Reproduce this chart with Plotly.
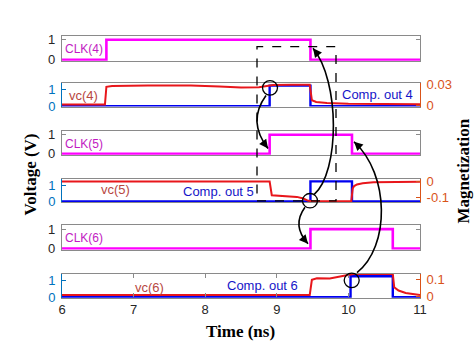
import plotly.graph_objects as go

# ---------------- data ----------------
# clock signals (V), step-wise
clk4_t = [6.0, 6.62, 9.47, 11.0]
clk4_v = [0, 1, 0, 0]
clk5_t = [6.0, 8.90, 10.05, 11.0]
clk5_v = [0, 1, 0, 0]
clk6_t = [6.0, 9.47, 10.62, 11.0]
clk6_v = [0, 1, 0, 0]

# comparator outputs (V), step-wise
comp4_t = [6.0, 8.90, 9.47, 11.0]
comp4_v = [0, 1.25, 0, 0]
comp5_t = [6.0, 9.47, 10.05, 11.0]
comp5_v = [0, 1.25, 0, 0]
comp6_t = [6.0, 10.03, 10.62, 11.0]
comp6_v = [0, 1.25, 0, 0]

# magnetization traces (right axes)
vc4_t = [6.0, 6.60, 6.62, 6.70, 7.2, 7.8, 8.2, 8.5, 8.75, 8.88, 8.95, 9.20, 9.46, 9.49, 9.55, 9.70, 10.0, 10.5, 11.0]
vc4_m = [0.001, 0.001, 0.026, 0.027, 0.028, 0.0278, 0.0265, 0.025, 0.0255, 0.027, 0.0285, 0.0288, 0.0288, 0.007, 0.0045, 0.003, 0.002, 0.0015, 0.0013]

vc5_t = [6.0, 8.90, 8.93, 9.09, 9.28, 9.37, 9.44, 9.51, 9.80, 10.04, 10.06, 10.08, 10.12, 10.20, 10.35, 10.60, 11.0]
vc5_m = [-0.002, -0.002, -0.086, -0.09, -0.096, -0.106, -0.12, -0.123, -0.123, -0.123, -0.045, -0.03, -0.02, -0.012, -0.007, -0.004, -0.003]

vc6_t = [6.0, 9.46, 9.49, 9.56, 9.74, 9.90, 9.98, 10.03, 10.07, 10.62, 10.64, 10.70, 10.80, 10.95, 11.0]
vc6_m = [0.008, 0.008, 0.100, 0.110, 0.108, 0.120, 0.124, 0.132, 0.136, 0.136, 0.055, 0.035, 0.020, 0.010, 0.008]

x_ticks = [6, 7, 8, 9, 10, 11]

# ---------------- layout helpers ----------------
W, H = 474, 348
L, R = 62, 54
tops = [31, 80, 130, 179.5, 228, 278]
bots = [57, 104.5, 154.5, 203.5, 253, 303]

def xp(px):
    return (px - L) / (W - L - R)

def yp(py):
    return 1 - py / H

GRAY = "#8a8a8a"
BLUE_AX = "#0072BD"
ORANGE = "#D95319"
MAG = "#FF00FF"
RED = "#E8161B"
BLUE = "#0000F0"
TICKFONT = dict(family="Liberation Sans, Arial", size=13)

fig = go.Figure()

clk_range = [-0.048, 1.19]
volt_range = [-0.03, 1.41]
mag_ranges = {2: [-0.00205, 0.03136], 4: [-0.1265, 0.0147], 6: [-0.0088, 0.138]}
mag_ticks = {2: ([0, 0.03], ["0", "0.03"]), 4: ([-0.1, 0], ["-0.1", "0"]), 6: ([0, 0.1], ["0", "0.1"])}
right_axis = {2: 7, 4: 8, 6: 9}

def ax(n):
    return "" if n == 1 else str(n)

# traces
for i, (t, v) in zip([1, 3, 5], [(clk4_t, clk4_v), (clk5_t, clk5_v), (clk6_t, clk6_v)]):
    fig.add_trace(go.Scatter(x=t, y=v, mode="lines", line=dict(color=MAG, width=2.6, shape="hv"),
                             xaxis="x" + ax(i), yaxis="y" + ax(i), showlegend=False, hoverinfo="skip"))
for i, (t, v) in zip([2, 4, 6], [(comp4_t, comp4_v), (comp5_t, comp5_v), (comp6_t, comp6_v)]):
    fig.add_trace(go.Scatter(x=t, y=v, mode="lines", line=dict(color=BLUE, width=2.4, shape="hv"),
                             xaxis="x" + ax(i), yaxis="y" + ax(i), showlegend=False, hoverinfo="skip"))
for i, (t, m) in zip([2, 4, 6], [(vc4_t, vc4_m), (vc5_t, vc5_m), (vc6_t, vc6_m)]):
    fig.add_trace(go.Scatter(x=t, y=m, mode="lines", line=dict(color=RED, width=2.0),
                             xaxis="x" + ax(i), yaxis="y" + ax(right_axis[i]), showlegend=False, hoverinfo="skip"))

lay = dict(width=W, height=H, margin=dict(l=L, r=R, t=0, b=0),
           plot_bgcolor="white", paper_bgcolor="white", showlegend=False)

for i in range(1, 7):
    dom = [yp(bots[i - 1]), yp(tops[i - 1])]
    last = (i == 6)
    lay["xaxis" + ax(i)] = dict(domain=[0, 1], anchor="y" + ax(i), range=[6, 11],
                                showline=True, mirror="ticks" if last else True, linecolor=GRAY, linewidth=1.4,
                                showgrid=False, zeroline=False,
                                ticks="inside" if last else "", ticklen=4, tickcolor=GRAY,
                                tickvals=x_ticks, showticklabels=last,
                                tickfont=dict(family="Liberation Sans, Arial", size=13, color="#262626"))
    if i % 2 == 1:
        lay["yaxis" + ax(i)] = dict(domain=dom, anchor="x" + ax(i), range=clk_range,
                                    showline=True, mirror="ticks", linecolor=GRAY, linewidth=1.4,
                                    showgrid=False, zeroline=False, ticks="inside", ticklen=4, tickcolor=GRAY,
                                    tickvals=[0, 1], ticktext=["0", "1"], ticklabelstandoff=3,
                                    tickfont=dict(family="Liberation Sans, Arial", size=13, color="#262626"))
    else:
        lay["yaxis" + ax(i)] = dict(domain=dom, anchor="x" + ax(i), range=volt_range,
                                    showline=True, mirror=False, linecolor=BLUE_AX, linewidth=1,
                                    showgrid=False, zeroline=False, ticks="inside", ticklen=4, tickcolor=BLUE_AX,
                                    tickvals=[0, 1], ticktext=["0", "1"], ticklabelstandoff=3,
                                    tickfont=dict(family="Liberation Sans, Arial", size=13, color=BLUE_AX))
        tv, tt = mag_ticks[i]
        lay["yaxis" + str(right_axis[i])] = dict(overlaying="y" + ax(i), side="right", anchor="x" + ax(i),
                                                 range=mag_ranges[i], showline=True, linecolor=ORANGE, linewidth=1,
                                                 showgrid=False, zeroline=False, ticks="inside", ticklen=4,
                                                 tickcolor=ORANGE, tickvals=tv, ticktext=tt, ticklabelstandoff=3,
                                                 tickfont=dict(family="Liberation Sans, Arial", size=13, color=ORANGE))

# ---------------- labels ----------------
LABFONT = "Liberation Sans, Arial"
annots = []
def lab(text, x, y, panel, color, size=13, xanchor="center"):
    annots.append(dict(text=text, x=x, y=y, xref="x" + ax(panel), yref="y" + ax(panel), showarrow=False,
                       xanchor=xanchor, yanchor="middle", font=dict(family=LABFONT, size=size, color=color)))

lab("CLK(4)", 6.02, 0.52, 1, "#C21AC2", 12, "left")
lab("CLK(5)", 6.02, 0.54, 3, "#C21AC2", 12, "left")
lab("CLK(6)", 6.02, 0.54, 5, "#C21AC2", 12, "left")
lab("vc(4)", 6.30, 0.66, 2, "#B8473F")
lab("vc(5)", 6.75, 0.72, 4, "#B8473F")
lab("vc(6)", 7.22, 0.58, 6, "#B8473F")
lab("Comp. out 4", 9.88, 0.72, 2, "#1515C8", 13, "left")
lab("Comp. out 5", 8.18, 0.62, 4, "#1515C8")
lab("Comp. out 6", 8.80, 0.68, 6, "#1515C8")

TITLE = dict(family="Liberation Serif, Times New Roman", size=17, color="black")
annots.append(dict(text="<b>Voltage (V)</b>", x=xp(30), y=yp(175), xref="paper", yref="paper",
                   showarrow=False, textangle=-90, font=TITLE, xanchor="center", yanchor="middle"))
annots.append(dict(text="<b>Magnetization</b>", x=xp(464), y=yp(172), xref="paper", yref="paper",
                   showarrow=False, textangle=-90, font=TITLE, xanchor="center", yanchor="middle"))
annots.append(dict(text="<b>Time (ns)</b>", x=xp(240), y=yp(338), xref="paper", yref="paper",
                   showarrow=False, font=TITLE, xanchor="center", yanchor="middle"))

# ---------------- decorations ----------------
shapes = []
# dashed box
shapes.append(dict(type="rect", xref="paper", yref="paper", x0=xp(257), x1=xp(336), y0=yp(202.5), y1=yp(42.3),
                   line=dict(color="black", width=1.3, dash="dash")))
# circles
for cx, cy in [(270, 85), (310, 202.3), (351.7, 285)]:
    r = 7.5
    shapes.append(dict(type="circle", xref="paper", yref="paper", x0=xp(cx - r), x1=xp(cx + r),
                       y0=yp(cy + r), y1=yp(cy - r), line=dict(color="black", width=1.3)))

def P(px, py):
    return f"{xp(px):.5f},{yp(py):.5f}"

curves = [
    (("Q", (266, 93), [(247, 120)], (268, 148))),
    (("C", (314, 196), [(340, 172), (340, 78)], (313, 44))),
    (("Q", (305, 209), [(291.5, 228)], (308, 247))),
    (("C", (357, 277), [(390, 250), (390, 175)], (354, 141))),
]
import math
for kind, s, ctrl, e in curves:
    path = "M " + P(*s) + " " + kind + " " + " ".join(P(*c) for c in ctrl) + " " + P(*e)
    shapes.append(dict(type="path", xref="paper", yref="paper", path=path,
                       line=dict(color="black", width=1.6)))
    c = ctrl[-1]
    dx, dy = e[0] - c[0], e[1] - c[1]
    n = math.hypot(dx, dy)
    ux, uy = dx / n, dy / n
    annots.append(dict(text="", x=xp(e[0]), y=yp(e[1]), xref="paper", yref="paper",
                       showarrow=True, ax=-ux * 9, ay=-uy * 9, arrowhead=2, arrowsize=1.1,
                       arrowwidth=1.6, arrowcolor="black", standoff=0))

lay["annotations"] = annots
lay["shapes"] = shapes
fig.update_layout(**lay)
fig.write_html("out.html")
